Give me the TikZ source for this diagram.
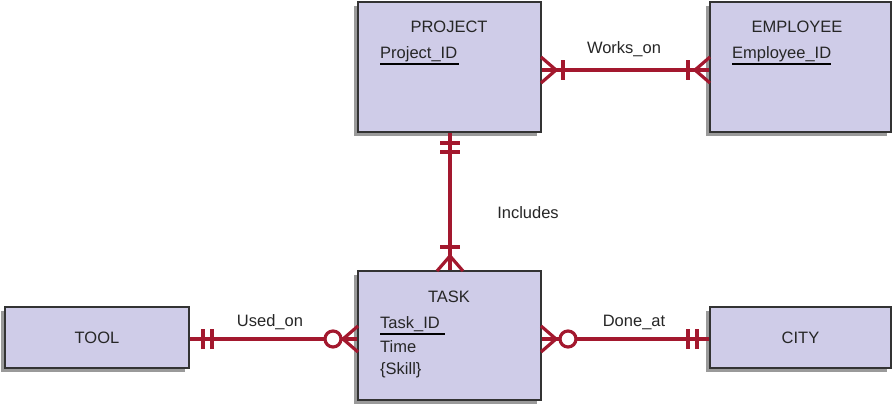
\documentclass[tikz,border=0pt]{standalone}
\usepackage{fontspec}
\setmainfont{Liberation Sans}
\usetikzlibrary{calc}
\definecolor{rel}{HTML}{A3182E}
\definecolor{ent}{HTML}{CFCCE8}
\definecolor{shd}{HTML}{9A9A9A}
\tikzset{
  entity/.style={draw=black!80, line width=1.5pt, fill=ent, minimum width=#1, inner sep=0pt},
  txt/.style={font=\fontsize{16.5}{19}\selectfont, inner sep=0pt, text=black!85},
  rl/.style={draw=rel, line width=3.6pt},
  sym/.style={draw=rel, line width=3.2pt},
  x=1pt, y=1pt
}
\begin{document}
\begin{tikzpicture}
\useasboundingbox (0,0) rectangle (894,410);
% shadows
\foreach \a/\b/\c/\d in {358/278/541/408, 710/278/891/408, 358/10/541/139, 5/42/189/103, 710/42/891/103}{
  \fill[shd] (\a-4,\b-4) rectangle (\c-4,\d-4);
}
\node[entity=183pt, minimum height=130pt] (project) at (449.5,343) {};
\node[entity=181pt, minimum height=130pt] (employee) at (800.5,343) {};
\node[entity=183pt, minimum height=129pt] (task) at (449.5,74.5) {};
\node[entity=184pt, minimum height=61pt] (tool) at (97,72.5) {};
\node[entity=181pt, minimum height=61pt] (city) at (800.5,72.5) {};
% texts
\node[txt] (pt) at (449,383) {PROJECT};
\node[txt, anchor=west] (pid) at (380,356) {Project\_ID};
\draw[line width=1.2pt] (380,346) -- (459,346);
\node[txt] (et) at (797,383) {EMPLOYEE};
\node[txt, anchor=west] (eid) at (732,356) {Employee\_ID};
\draw[line width=1.2pt] (732,346) -- (831,346);
\node[txt] (tt) at (449,113) {TASK};
\node[txt, anchor=west] (tid) at (380,86) {Task\_ID};
\draw[line width=1.2pt] (380,76) -- (445,76);
\node[txt, anchor=west] (ttime) at (380,63) {Time};
\node[txt, anchor=west] (tsk) at (380,40) {\{Skill\}};
\node[txt] (tl) at (tool) {TOOL};
\node[txt] (ct) at (city) {CITY};
\node[txt] (l1) at (624,361) {Works\_on};
\node[txt] (l2) at (528,197) {Includes};
\node[txt] (l3) at (270,88) {Used\_on};
\node[txt] (l4) at (634,88) {Done\_at};
% connectors
\draw[rl] (project.east |- 0,340) -- (employee.west |- 0,340);
\draw[rl] (project.south -| 450,0) -- (task.north -| 450,0);
\draw[rl] (tool.east |- 0,71) -- (task.west |- 0,71);
\draw[rl] (task.east |- 0,71) -- (city.west |- 0,71);
% Works_on symbols
\draw[sym] (541,353) -- (556,340) -- (541,327);
\draw[sym] (563,330) -- (563,350);
\draw[sym] (710,353) -- (695,340) -- (710,327);
\draw[sym] (688,330) -- (688,350);
% Includes symbols
\draw[sym] (440,267) -- (460,267);
\draw[sym] (440,258) -- (460,258);
\draw[sym] (437,139) -- (450,154) -- (463,139);
\draw[sym] (440,163) -- (460,163);
% Used_on symbols
\draw[sym] (203,61) -- (203,81);
\draw[sym] (212,61) -- (212,81);
\draw[sym, fill=white] (333,71) circle (8);
\draw[sym] (358,84) -- (343,71) -- (358,58);
% Done_at symbols
\draw[sym] (541,84) -- (556,71) -- (541,58);
\draw[sym, fill=white] (568,71) circle (8);
\draw[sym] (688,61) -- (688,81);
\draw[sym] (697,61) -- (697,81);
\end{tikzpicture}
\end{document}
